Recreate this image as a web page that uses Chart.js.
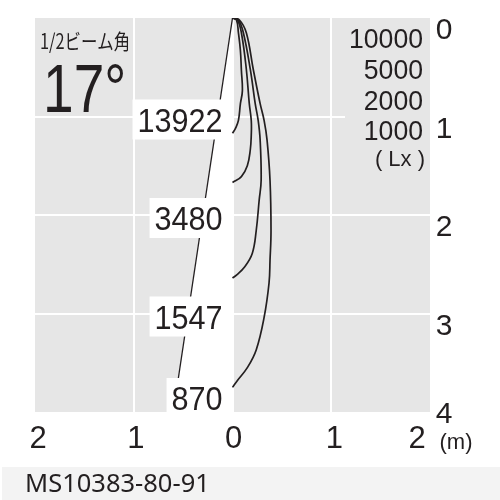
<!DOCTYPE html>
<html>
<head>
<meta charset="utf-8">
<script src="https://cdn.jsdelivr.net/npm/chart.js@4"></script>
<style>
  body { margin: 0; background: #fff; }
  canvas { display: block; }
</style>
</head>
<body>
<canvas id="myChart" width="500" height="500"></canvas>
<script>
// depth (m) down the right axis, width (m) along the bottom
const depthLabels = ['0', '1', '2', '3', '4'];
const widthLabels = ['2', '1', '0', '1', '2'];
const luxLevels = ['10000', '5000', '2000', '1000'];
const centerLux = ['13922', '3480', '1547', '870'];
const centerDepth = [1, 2, 3, 4];

// beam edge line (left half)
const beamX = [0, -0.6];
const beamD = [0, 4];

// isolux curves (right half)
const lux10000X = [0, 0.04, 0.06, 0.08, 0.09, 0.10, 0.08, 0.06, 0.03, 0];
const lux10000D = [0, 0.02, 0.15, 0.33, 0.53, 0.74, 0.87, 1.04, 1.12, 1.17];
const lux5000X = [0, 0.05, 0.09, 0.14, 0.17, 0.19, 0.19, 0.18, 0.15, 0.09, 0];
const lux5000D = [0, 0.02, 0.15, 0.52, 0.87, 1.04, 1.19, 1.34, 1.50, 1.61, 1.67];
const lux2000X = [0, 0.06, 0.11, 0.18, 0.23, 0.26, 0.28, 0.29, 0.27, 0.24, 0.20, 0.12, 0.04, 0];
const lux2000D = [0, 0.02, 0.15, 0.52, 0.87, 1.04, 1.24, 1.65, 1.85, 2.16, 2.39, 2.53, 2.61, 2.64];
const lux1000X = [0, 0.07, 0.14, 0.21, 0.28, 0.32, 0.35, 0.38, 0.39, 0.38, 0.37, 0.32, 0.24, 0.15, 0.05, 0];
const lux1000D = [0, 0.02, 0.15, 0.52, 0.87, 1.04, 1.24, 1.65, 2.16, 2.46, 2.69, 3.04, 3.37, 3.55, 3.68, 3.75];

const toPoints = (xs, ds) => xs.map((x, i) => ({ x: x, y: ds[i] }));

const curveStyle = {
  showLine: true,
  borderColor: '#231f20',
  borderWidth: 1.7,
  pointRadius: 0,
  tension: 0.4,
  fill: false,
};

function squeezeText(ctx, text, x, y, font, sx, align) {
  ctx.save();
  ctx.font = font;
  ctx.textAlign = align;
  ctx.textBaseline = 'alphabetic';
  ctx.translate(x, y);
  ctx.scale(sx, 1);
  ctx.fillText(text, 0, 0);
  ctx.restore();
}

const panel = {
  id: 'panel',
  beforeDraw(chart) {
    const { ctx, chartArea: a } = chart;
    ctx.save();
    ctx.fillStyle = '#e6e6e6';
    ctx.fillRect(a.left, a.top, a.right - a.left, a.bottom - a.top);
    // footer strip
    ctx.fillStyle = '#f3f3f3';
    ctx.fillRect(2, 467, 498, 33);
    ctx.restore();
  },
  afterDatasetsDraw(chart) {
    const { ctx, chartArea: a } = chart;
    const sx = chart.scales.x;
    const sy = chart.scales.y;
    ctx.save();
    ctx.fillStyle = '#231f20';

    // center illuminance labels with white boxes
    const right = sx.getPixelForValue(-0.1);
    centerLux.forEach((t, i) => {
      const cy = sy.getPixelForValue(centerDepth[i]) + (i === centerLux.length - 1 ? -14 : 3);
      ctx.font = '34px "Liberation Sans"';
      const w = ctx.measureText(t).width * 0.9;
      ctx.fillStyle = '#fff';
      const top = cy - 20;
      const bot = Math.min(cy + 20, a.bottom);
      ctx.fillRect(right - w - 5, top, w + 8, bot - top);
      ctx.fillStyle = '#231f20';
      squeezeText(ctx, t, right, cy + 12, '34px "Liberation Sans"', 0.9, 'right');
    });

    // legend block
    ctx.fillStyle = '#e6e6e6';
    ctx.fillRect(345, a.top + 6, a.right - 345, 160);
    ctx.fillStyle = '#231f20';
    const legY = [38, 69, 99.5, 130];
    luxLevels.forEach((t, i) => {
      squeezeText(ctx, t, a.right - 7, legY[i] + 10, '28px "Liberation Sans"', 0.95, 'right');
    });
    squeezeText(ctx, '( Lx )', a.right - 5, 166, '22px "Liberation Sans"', 1.0, 'right');

    // beam angle note
    squeezeText(ctx, '1/2ビーム角', 40, 49, '21px "Noto Sans CJK JP"', 0.78, 'left');
    squeezeText(ctx, '17°', 43, 112, '68px "Liberation Sans"', 0.81, 'left');

    // right axis (depth)
    depthLabels.forEach((t, i) => {
      const cy = sy.getPixelForValue(i) + (i === depthLabels.length - 1 ? 0 : 10);
      squeezeText(ctx, t, a.right + 14, cy + 11, '30px "Liberation Sans"', 1, 'center');
    });

    // bottom axis (width)
    const bx = [3, 2, 1, 3, -13];
    widthLabels.forEach((t, i) => {
      const px = sx.getPixelForValue(i - 2) + bx[i];
      squeezeText(ctx, t, px, 448, '31px "Liberation Sans"', 1, 'center');
    });
    squeezeText(ctx, '(m)', 456, 449, '22px "Liberation Sans"', 1, 'center');

    // model number
    squeezeText(ctx, 'MS10383-80-91', 25, 492, '25.5px "Noto Sans"', 1, 'left');
    ctx.restore();
  },
};

const innerGrid = (lo, hi) => (c) =>
  (c.tick && (c.tick.value === lo || c.tick.value === hi)) ? 'rgba(0,0,0,0)' : '#ffffff';

const chart = new Chart(document.getElementById('myChart').getContext('2d'), {
  type: 'scatter',
  data: {
    datasets: [
      Object.assign({}, curveStyle, { label: luxLevels[0], data: toPoints(lux10000X, lux10000D) }),
      Object.assign({}, curveStyle, { label: luxLevels[1], data: toPoints(lux5000X, lux5000D) }),
      Object.assign({}, curveStyle, { label: luxLevels[2], data: toPoints(lux2000X, lux2000D) }),
      Object.assign({}, curveStyle, { label: luxLevels[3], data: toPoints(lux1000X, lux1000D) }),
      {
        label: 'beam',
        data: toPoints(beamX, beamD),
        showLine: true,
        borderColor: '#231f20',
        borderWidth: 1.3,
        pointRadius: 0,
        tension: 0,
        order: 5,
      },
      {
        label: 'cone',
        data: toPoints(beamX.concat([0, 0]), beamD.concat([4, 0])),
        showLine: true,
        borderWidth: 0,
        borderColor: 'rgba(0,0,0,0)',
        backgroundColor: '#ffffff',
        pointRadius: 0,
        tension: 0,
        fill: 'shape',
        order: 10,
      },
    ],
  },
  options: {
    responsive: false,
    animation: false,
    layout: { padding: { left: 35, right: 70, top: 18, bottom: 88 } },
    plugins: { legend: { display: false }, tooltip: { enabled: false } },
    scales: {
      x: {
        type: 'linear',
        min: -2,
        max: 2,
        ticks: { display: false, stepSize: 1 },
        border: { display: false },
        grid: { color: innerGrid(-2, 2), lineWidth: 2, drawTicks: false },
      },
      y: {
        type: 'linear',
        min: 0,
        max: 4,
        reverse: true,
        ticks: { display: false, stepSize: 1 },
        border: { display: false },
        grid: { color: innerGrid(0, 4), lineWidth: 2, drawTicks: false },
      },
    },
  },
  plugins: [panel],
});
</script>
</body>
</html>
